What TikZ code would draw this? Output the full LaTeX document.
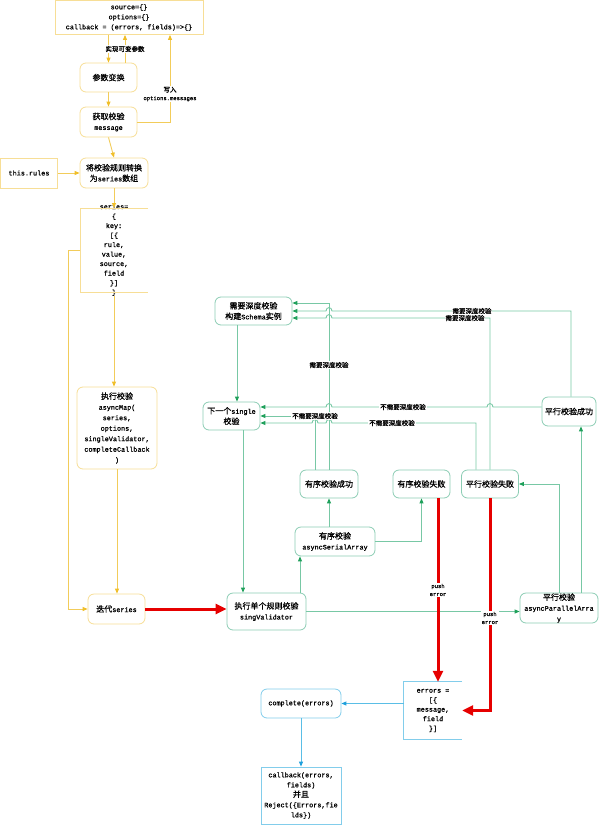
\documentclass[tikz,border=0pt]{standalone}
\usepackage{fontspec}
\setmainfont{Liberation Mono}[Scale=0.85,FakeBold=1]
\newfontfamily\cjk{Noto Sans CJK SC}[FakeBold=0.8]
\usetikzlibrary{arrows.meta,calc}
\definecolor{ybord}{RGB}{247,222,150}
\definecolor{yline}{RGB}{242,204,90}
\definecolor{ytip}{RGB}{240,190,40}
\definecolor{gbord}{RGB}{140,205,180}
\definecolor{gline}{RGB}{120,200,165}
\definecolor{gtip}{RGB}{30,160,90}
\definecolor{bbord}{RGB}{130,205,235}
\definecolor{bline}{RGB}{90,190,230}
\definecolor{btip}{RGB}{30,160,220}
\definecolor{rline}{RGB}{230,0,0}
\newcommand\zh[1]{{\cjk #1}}
\newcommand\hp[2]{-- (#1+3,#2) .. controls (#1+3,#2-4.5) and (#1-3,#2-4.5) .. (#1-3,#2)}
\begin{document}
\begin{tikzpicture}[x=1pt,y=-1pt,
  every node/.style={inner sep=0pt,align=center,font=\fontsize{8}{10.5}\selectfont},
  ybox/.style={draw=ybord,line width=0.8pt,rounded corners=6pt,fill=white},
  yrect/.style={draw=ybord,line width=0.8pt,fill=white},
  gbox/.style={draw=gbord,line width=0.8pt,rounded corners=6pt,fill=white},
  bbox/.style={draw=bbord,line width=0.8pt,rounded corners=6pt,fill=white},
  brect/.style={draw=bbord,line width=0.8pt,fill=white},
  yarrow/.style={draw=yline,line width=0.9pt,-{Triangle[length=5pt,width=4pt,color=ytip]}},
  garrow/.style={draw=gline,line width=0.9pt,-{Triangle[length=5pt,width=4pt,color=gtip]}},
  barrow/.style={draw=bline,line width=0.9pt,-{Triangle[length=5pt,width=4pt,color=btip]}},
  rarrow/.style={draw=rline,line width=3pt,-{Triangle[length=11pt,width=10pt]}},
  lbl/.style={fill=white,inner sep=0.8pt,font=\fontsize{6.5}{8}\selectfont},
]
\useasboundingbox (0,0) rectangle (600,825);

% yellow nodes
\node[yrect,minimum width=148pt,minimum height=34pt,font=\fontsize{8}{10}\selectfont] (top) at (129,17.5) {source=\{\}\\options=\{\}\\callback = (errors, fields)=>\{\}};
\node[ybox,minimum width=57pt,minimum height=29pt] (canshu) at (108.5,77.5) {\zh{参数变换}};
\node[ybox,minimum width=57pt,minimum height=30pt] (huoqu) at (108.5,122) {\zh{获取校验}\\message};
\node[ybox,minimum width=68pt,minimum height=30pt] (jiang) at (114,173) {\zh{将校验规则转换}\\\zh{为}series\zh{数组}};
\node[yrect,minimum width=57.5pt,minimum height=30pt] (rules) at (29,173) {this.rules};
\node[font=\fontsize{8}{9.5}\selectfont] (series) at (114,250) {series=\\\{\\key:\\{[}\{\\rule,\\value,\\source,\\field\\\}]\\\}};
\coordinate (serN) at ($(series.center)+(0,-42)$);
\coordinate (serW) at ($(series.center)+(-34,0)$);
\draw[draw=ybord,line width=0.8pt] ($(series.center)+(34,-42)$) -- ($(series.center)+(-34,-42)$) -- ($(series.center)+(-34,42)$) -- ($(series.center)+(34,42)$);
\node[ybox,minimum width=80pt,minimum height=82pt] (exec) at (117,428) {\zh{执行校验}\\asyncMap(\\series,\\options,\\singleValidator,\\completeCallback\\)};
\node[ybox,minimum width=57pt,minimum height=30pt] (diedai) at (116.5,609) {\zh{迭代}series};

% green nodes
\node[gbox,minimum width=79pt,minimum height=37pt] (single) at (266.5,611.5) {\zh{执行单个规则校验}\\singValidator};
\node[gbox,minimum width=78pt,minimum height=30pt] (para) at (559,608) {\zh{平行校验}\\asyncParallelArra\\y};
\node[gbox,minimum width=80pt,minimum height=29pt] (serial) at (335,541.5) {\zh{有序校验}\\asyncSerialArray};
\node[gbox,minimum width=58pt,minimum height=28pt] (sersucc) at (329,484) {\zh{有序校验成功}};
\node[gbox,minimum width=57pt,minimum height=28pt] (serfail) at (421.5,484) {\zh{有序校验失败}};
\node[gbox,minimum width=57pt,minimum height=28pt] (parfail) at (490,484) {\zh{平行校验失败}};
\node[gbox,minimum width=54pt,minimum height=29pt] (parsucc) at (569,411.5) {\zh{平行校验成功}};
\node[gbox,minimum width=77pt,minimum height=28pt] (deep) at (253.5,311) {\zh{需要深度校验}\\\zh{构建}Schema\zh{实例}};
\node[gbox,minimum width=57pt,minimum height=28pt] (next) at (231.5,416) {\zh{下一个}single\\\zh{校验}};

% blue nodes
\node[minimum width=58pt,minimum height=57pt,font=\fontsize{8}{9.5}\selectfont] (errors) at (433,710.5) {errors =\\{[}\{\\message,\\field\\\}]};
\draw[draw=bbord,line width=0.8pt] (errors.north east) -- (errors.north west) -- (errors.south west) -- (errors.south east);
\node[bbox,minimum width=80pt,minimum height=29pt] (complete) at (301,703.5) {complete(errors)};
\node[brect,minimum width=80pt,minimum height=57pt,font=\fontsize{8}{10}\selectfont] (callback) at (301,795.5) {callback(errors,\\fields)\\\zh{并且}\\Reject(\{Errors,fie\\lds\})};

% yellow connectors
\draw[yarrow] (top.south -| canshu.north) -- (canshu.north);
\draw[yarrow] ([xshift=16.5pt]canshu.north) -- ([xshift=16.5pt]canshu.north |- top.south);
\draw[yarrow] (canshu.south) -- (huoqu.north);
\draw[yarrow] (huoqu.east) -| ([xshift=41pt]top.south);
\draw[yarrow] (huoqu.south) -- (jiang.north);
\draw[yarrow] (rules.east) -- (jiang.west);
\draw[yarrow] (jiang.south) -- (serN);
\draw[yarrow] (series.south) -- (series.south |- exec.north);
\draw[yarrow] (exec.south) -- (exec.south |- diedai.north);
\draw[yarrow] (serW) -- ++(-12pt,0) |- (diedai.west);

% green connectors
\draw[garrow] (single.east) -- (single.east -| para.west);
\draw[garrow] ([xshift=33.5pt]single.north) -- ([xshift=33.5pt]single.north |- serial.south);
\draw[garrow] (sersucc.south |- serial.north) -- (sersucc.south);
\draw[garrow] (serial.east) -| (serfail.south);
\draw[garrow] (para.north) |- (parfail.east);
\draw[garrow] ([xshift=22pt]para.north) -- ([xshift=22pt]para.north |- parsucc.south);
\draw[garrow] ([xshift=-16.5pt]deep.south) -- ([xshift=-16.5pt]deep.south |- next.north);
\draw[garrow] ([xshift=11.5pt]next.south) -- ([xshift=11.5pt]next.south |- single.north);
\draw[garrow] ([xshift=-14pt]sersucc.north) |- (next.east);
\draw[garrow] (sersucc.north) |- ([yshift=8pt]deep.east);
\draw[garrow] ([yshift=4.5pt]parsucc.west) \hp{490}{407} \hp{329}{407} -- ([yshift=9pt]next.east);
\draw[garrow] ([xshift=2pt]parsucc.north) -- (571,311) \hp{329}{311} -- (deep.east);
\draw[garrow] (parfail.north) -- (490,318) \hp{329}{318} -- ([yshift=-7pt]deep.east);
\draw[garrow] ([xshift=-14pt]parfail.north) -- (476,423) \hp{329}{423} \hp{315}{423} -- ([yshift=-7pt]next.east);

% red connectors
\draw[rarrow] (diedai.east) -- (diedai.east -| single.west);
\draw[rarrow] ([xshift=16.5pt]serfail.south) -- ([xshift=16.5pt]serfail.south |- errors.north);
\draw[rarrow] (parfail.south) |- (errors.east);

% blue connectors
\draw[barrow] (complete.east -| errors.west) -- (complete.east);
\draw[barrow] (complete.south) -- (callback.north);

% labels
\node[lbl] (l1) at (125,49) {\zh{实现可变参数}};
\node[lbl] (l2) at (170,94) {\zh{写入}\\options.messages};
\node[lbl] (l3) at (329,365) {\zh{需要深度校验}};
\node[lbl] (l4) at (315,416) {\zh{不需要深度校验}};
\node[lbl] (l5) at (403,407) {\zh{不需要深度校验}};
\node[lbl] (l6) at (392,423) {\zh{不需要深度校验}};
\node[lbl] (l7) at (472,311) {\zh{需要深度校验}};
\node[lbl] (l8) at (465,318) {\zh{需要深度校验}};
\node[lbl] (l9) at (438,590) {push\\error};
\node[lbl] (l10) at (490,618) {push\\error};
\end{tikzpicture}
\end{document}
